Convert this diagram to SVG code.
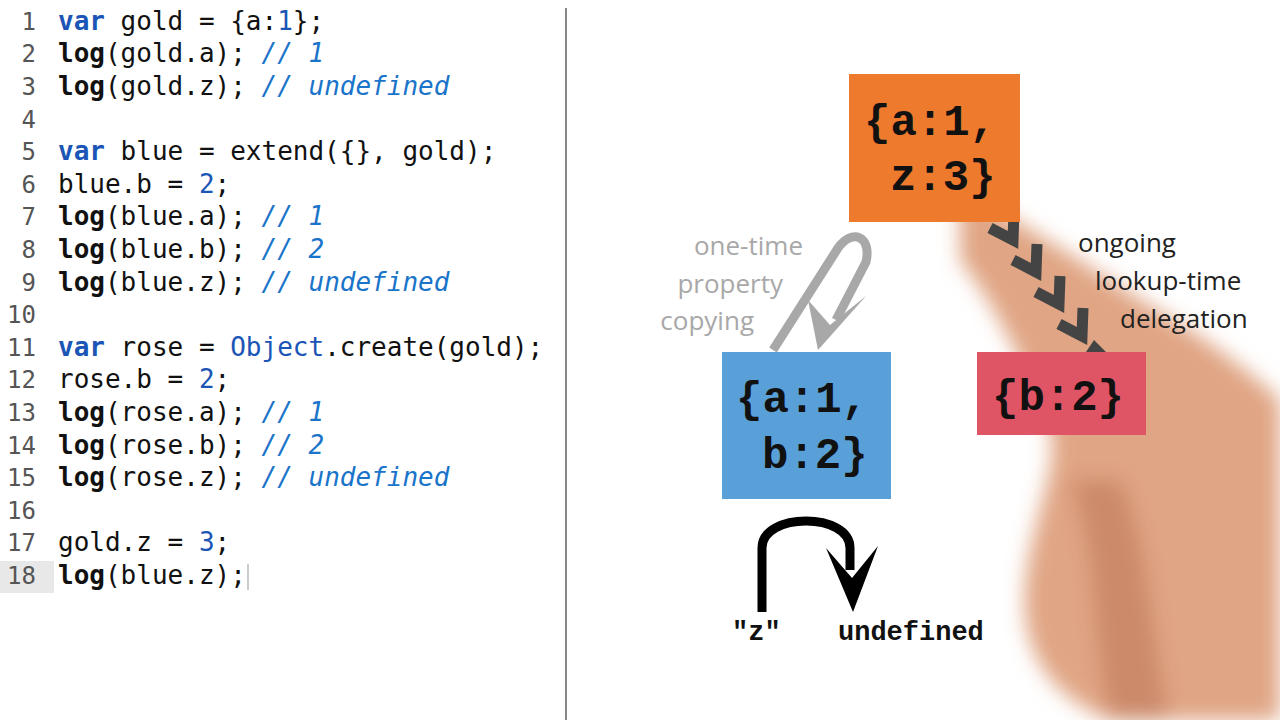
<svg xmlns="http://www.w3.org/2000/svg" width="1280" height="720" viewBox="0 0 1280 720">
<defs>
<style>
.ln{font-family:"DejaVu Sans Mono",monospace;font-size:24px;fill:#555;text-anchor:end}
.c{font-family:"DejaVu Sans Mono",monospace;font-size:26px;fill:#111}
.k{fill:#1b55b5;font-weight:bold}
.f{font-weight:bold}
.cm{fill:#1a74c9;font-style:italic}
.n{fill:#1b55b5}
.bx{font-family:"Liberation Mono","Courier New",monospace;font-weight:bold;font-size:44px;fill:#111}
.lb{font-family:"Open Sans","Noto Sans",sans-serif;font-size:26px}
.ch{fill:none;stroke:#444;stroke-width:11}
</style>
<filter id="bl" x="-20%" y="-20%" width="140%" height="140%"><feGaussianBlur stdDeviation="10"/></filter>
</defs>
<rect width="1280" height="720" fill="#fff"/>
<g id="hand" filter="url(#bl)">
<path d="M960 190 C1040 230 1120 290 1190 330 C1250 370 1280 400 1280 400 L1280 720 L1110 720 C1060 700 1020 660 1025 590 C1030 520 1060 470 1050 430 C1030 380 1000 310 960 260 Z" fill="#e0a584"/>
<path d="M1070 480 C1100 560 1090 640 1110 720 L1170 720 C1150 630 1150 540 1120 480 Z" fill="#b87052" opacity="0.5"/>
</g>
<rect x="0" y="561" width="54" height="32" fill="#e8e8e8"/>
<line x1="566" y1="8" x2="566" y2="720" stroke="#888" stroke-width="2"/>
<g id="code">
<text class="ln" x="36" y="30">1</text><text class="ln" x="36" y="62">2</text><text class="ln" x="36" y="95">3</text><text class="ln" x="36" y="128">4</text><text class="ln" x="36" y="160">5</text><text class="ln" x="36" y="193">6</text><text class="ln" x="36" y="225">7</text><text class="ln" x="36" y="258">8</text><text class="ln" x="36" y="291">9</text><text class="ln" x="36" y="323">10</text><text class="ln" x="36" y="356">11</text><text class="ln" x="36" y="388">12</text><text class="ln" x="36" y="421">13</text><text class="ln" x="36" y="454">14</text><text class="ln" x="36" y="486">15</text><text class="ln" x="36" y="519">16</text><text class="ln" x="36" y="551">17</text><text class="ln" x="36" y="584">18</text>
<text class="c" x="58" y="30"><tspan class="k">var</tspan> gold = {a:<tspan class="n">1</tspan>};</text>
<text class="c" x="58" y="62"><tspan class="f">log</tspan>(gold.a); <tspan class="cm">// 1</tspan></text>
<text class="c" x="58" y="95"><tspan class="f">log</tspan>(gold.z); <tspan class="cm">// undefined</tspan></text>
<text class="c" x="58" y="160"><tspan class="k">var</tspan> blue = extend({}, gold);</text>
<text class="c" x="58" y="193">blue.b = <tspan class="n">2</tspan>;</text>
<text class="c" x="58" y="225"><tspan class="f">log</tspan>(blue.a); <tspan class="cm">// 1</tspan></text>
<text class="c" x="58" y="258"><tspan class="f">log</tspan>(blue.b); <tspan class="cm">// 2</tspan></text>
<text class="c" x="58" y="291"><tspan class="f">log</tspan>(blue.z); <tspan class="cm">// undefined</tspan></text>
<text class="c" x="58" y="356"><tspan class="k">var</tspan> rose = <tspan class="n">Object</tspan>.create(gold);</text>
<text class="c" x="58" y="388">rose.b = <tspan class="n">2</tspan>;</text>
<text class="c" x="58" y="421"><tspan class="f">log</tspan>(rose.a); <tspan class="cm">// 1</tspan></text>
<text class="c" x="58" y="454"><tspan class="f">log</tspan>(rose.b); <tspan class="cm">// 2</tspan></text>
<text class="c" x="58" y="486"><tspan class="f">log</tspan>(rose.z); <tspan class="cm">// undefined</tspan></text>
<text class="c" x="58" y="551">gold.z = <tspan class="n">3</tspan>;</text>
<text class="c" x="58" y="584"><tspan class="f">log</tspan>(blue.z);</text>
<line x1="248" y1="564" x2="248" y2="590" stroke="#999" stroke-width="1"/>
</g>
<g id="connectors">
<path d="M773 350 L838 248 C852 228 872 236 866 262 L836 320" fill="none" stroke="#a8a8a8" stroke-width="9"/>
<path d="M818 350 L808 300 L830 325 L866 296 Z" fill="#a8a8a8"/>
<g class="ch">
<path d="M990 228 L1013 240 L1014 212" transform="translate(0,0)"/>
<path d="M990 228 L1013 240 L1014 212" transform="translate(23,32)"/>
<path d="M990 228 L1013 240 L1014 212" transform="translate(46,64)"/>
<path d="M990 228 L1013 240 L1014 212" transform="translate(69,96)"/>
</g>
<path d="M1094 340 L1106 352 L1086 352 Z" fill="#444"/>
<path d="M762 612 L762 548 C762 512 850 512 850 548 L850 570" fill="none" stroke="#000" stroke-width="9"/>
<path d="M826 548 L853 612 L878 546 L852 578 Z" fill="#000"/>
</g>
<g id="gold"><rect x="849" y="74" width="171" height="148" fill="#ee7a2e"/>
<text class="bx" x="864" y="135">{a:1,</text><text class="bx" x="890" y="190">z:3}</text></g>
<g id="blue"><rect x="722" y="352" width="169" height="147" fill="#5aa0d8"/>
<text class="bx" x="736" y="412">{a:1,</text><text class="bx" x="762" y="468">b:2}</text></g>
<g id="rose"><rect x="977" y="352" width="169" height="83" fill="#e05566"/>
<text class="bx" x="992" y="410">{b:2}</text></g>
<g id="labels">
<text class="lb" fill="#a8a8a8" text-anchor="end" x="803" y="255">one-time</text>
<text class="lb" fill="#a8a8a8" text-anchor="end" x="783" y="293">property</text>
<text class="lb" fill="#a8a8a8" text-anchor="end" x="754" y="330">copying</text>
<text class="lb" fill="#222" x="1078" y="252">ongoing</text>
<text class="lb" fill="#222" x="1095" y="290">lookup-time</text>
<text class="lb" fill="#222" x="1120" y="328">delegation</text>
<text class="bx" style="font-size:27px" x="732" y="640">"z"</text>
<text class="bx" style="font-size:27px" x="838" y="640">undefined</text>
</g>
</svg>
